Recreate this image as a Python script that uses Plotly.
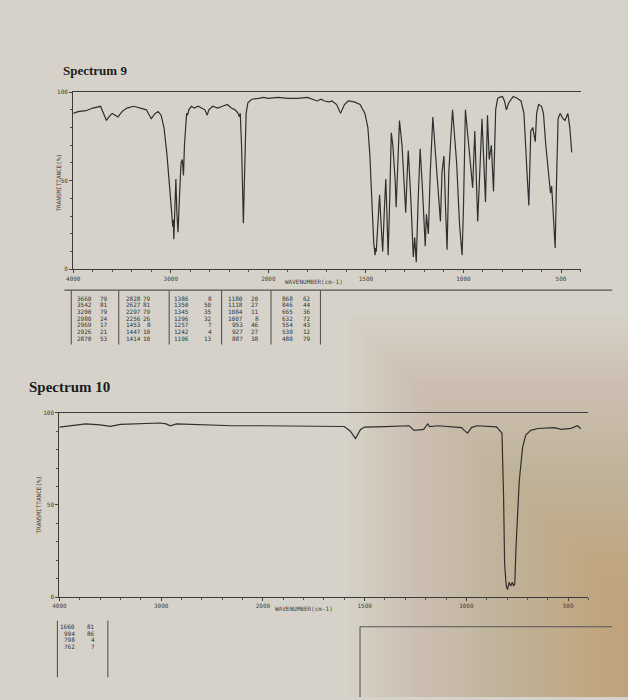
import plotly.graph_objects as go

W, H = 628, 700

# ---------------- data ----------------
# Spectrum 9 trace (wavenumber cm-1, %T)
s9_wn = [4000, 3950, 3870, 3800, 3720, 3690, 3660, 3620, 3600, 3570, 3542, 3500, 3450, 3380, 3300,
         3250, 3200, 3160, 3130, 3100, 3070, 3040, 3010, 2990, 2980, 2975, 2969, 2958, 2948, 2938,
         2926, 2912, 2895, 2882, 2870, 2860, 2848, 2838, 2828, 2815, 2790, 2760, 2720, 2680, 2650,
         2627, 2610, 2570, 2520, 2470, 2420, 2380, 2340, 2310, 2297, 2288, 2275, 2262, 2256, 2250,
         2240, 2228, 2210, 2170, 2100, 2050, 2000, 1950, 1900, 1850, 1800, 1770, 1750, 1730, 1712,
         1690, 1674, 1650, 1630, 1610, 1590, 1560, 1530, 1505, 1490, 1480, 1470, 1460, 1453, 1450,
         1447, 1438, 1430, 1422, 1414, 1405, 1398, 1392, 1386, 1378, 1370, 1362, 1350, 1345, 1338,
         1328, 1315, 1296, 1290, 1283, 1270, 1257, 1250, 1242, 1232, 1222, 1210, 1196, 1190, 1180,
         1170, 1157, 1140, 1118, 1110, 1100, 1092, 1084, 1075, 1056, 1035, 1020, 1007, 1000, 990,
         972, 953, 942, 927, 905, 887, 877, 868, 857, 846, 835, 825, 815, 800, 790, 780, 768, 745,
         725, 705, 690, 680, 672, 665, 660, 655, 645, 632, 625, 615, 600, 590, 578, 565, 554, 548,
         540, 530, 523, 515, 505, 490, 480, 472, 465, 455, 445]
s9_t = [88, 89, 89.5, 91, 92, 88, 84, 87, 88, 87, 86, 89, 91, 92, 91,
        90, 85, 88, 89, 87, 80, 65, 45, 30, 24, 28, 17, 35, 51, 32,
        21, 40, 60, 62, 53, 70, 84, 88, 87, 90, 92, 91, 92, 91, 90,
        87, 90, 92, 91, 92, 93, 91, 90, 88, 86, 88, 70, 40, 26, 40,
        72, 88, 94, 96, 96.5, 97, 96.5, 97, 96.5, 96.5, 97, 96, 95, 96, 95,
        94.5, 95, 93, 88, 93, 95, 94.5, 93, 88, 80, 65, 40, 15, 8, 12,
        10, 30, 42, 25, 10, 35, 51, 30, 8, 40, 77, 70, 50, 35, 60,
        84, 70, 32, 50, 67, 40, 7, 18, 4, 40, 68, 45, 13, 31, 20,
        55, 86, 60, 27, 55, 64, 35, 11, 55, 90, 60, 25, 8, 35, 90,
        70, 46, 78, 27, 85, 38, 87, 62, 70, 44, 90, 96.5, 97, 97.5, 95, 90, 94, 97.5,
        96.5, 95, 88, 70, 50, 36, 55, 78, 80, 72, 88, 93, 92, 88, 70, 55, 43, 47,
        30, 12, 50, 85, 88, 85, 84, 86, 88, 80, 66]

# Spectrum 10 trace (wavenumber cm-1, %T)
s10_wn = [4000, 3900, 3740, 3600, 3500, 3400, 3200, 3010, 2950, 2910, 2850, 2620, 2300, 2020,
          1800, 1681, 1600, 1570, 1545, 1520, 1500, 1400, 1281, 1257, 1230, 1210, 1190, 1180,
          1138, 1024, 1010, 994, 975, 948, 852, 840, 825, 817, 812, 804, 798, 790, 782, 774,
          768, 762, 756, 740, 724, 708, 684, 648, 569, 533, 486, 453, 438]
s10_t = [92.3, 93, 94, 93.5, 92.7, 93.8, 94, 94.5, 94, 93, 94, 93.5, 93, 93,
         93, 93, 92.6, 90, 86, 91, 92.3, 92.5, 93, 90.5, 91, 91, 94, 92.5,
         93, 92, 90.5, 89, 92, 93, 92.4, 91, 89, 54, 18, 6, 4, 8, 6, 8,
         6, 7, 27, 63, 81, 88, 90.5, 91.5, 92, 91, 91.6, 93, 91.4]

# axis tick labels
tick_wn = [4000, 3000, 2000, 1500, 1000, 500]
tick_text = ["4000", "3000", "2000", "1500", "1000", "500"]
y_tickvals = [0, 50, 100]
y_ticktext = ["0", "50", "100"]

# peak tables
s9_peak_wn = [3660, 3542, 3200, 2980, 2969, 2926, 2870,
              2828, 2627, 2297, 2256, 1453, 1447, 1414,
              1386, 1350, 1345, 1296, 1257, 1242, 1196,
              1180, 1118, 1084, 1007, 953, 927, 887,
              868, 846, 665, 632, 554, 530, 480]
s9_peak_t = [79, 81, 79, 24, 17, 21, 53,
             79, 81, 79, 26, 8, 10, 10,
             8, 50, 35, 32, 7, 4, 13,
             20, 27, 11, 8, 46, 27, 38,
             62, 44, 36, 72, 43, 12, 79]
s10_peak_wn = [1660, 994, 798, 762]
s10_peak_t = [81, 86, 4, 7]


def to_u(w):
    # two-scale IR axis: 4000-2000 compressed, 2000-400 expanded
    return (4000 - w) / 1000 if w >= 2000 else 2 + (2000 - w) / 500


def X(px):
    return px / W


def Y(py):
    return 1 - py / H


ink = "#2f2f2f"
mono = "DejaVu Sans Mono"

fig = go.Figure()
fig.add_trace(go.Scatter(x=[to_u(w) for w in s9_wn], y=s9_t, mode="lines",
                         line=dict(color=ink, width=1.2), xaxis="x", yaxis="y",
                         hoverinfo="skip"))
fig.add_trace(go.Scatter(x=[to_u(w) for w in s10_wn], y=s10_t, mode="lines",
                         line=dict(color=ink, width=1.2), xaxis="x2", yaxis="y2",
                         hoverinfo="skip"))

minor_u = [round(i * 0.2, 2) for i in range(27)]
minor_y = list(range(0, 101, 10))


def xax(domain, anchor):
    return dict(domain=domain, range=[0, 5.2], anchor=anchor,
                tickvals=[to_u(w) for w in tick_wn], ticktext=tick_text,
                ticks="outside", ticklen=3, tickcolor="#444", tickwidth=1,
                tickfont=dict(family=mono, size=6, color="#444"),
                showline=True, linecolor="#3a3a3a", linewidth=1.2, mirror=True,
                showgrid=False, zeroline=False,
                minor=dict(tickvals=minor_u, ticks="outside", ticklen=2,
                           tickcolor="#555", showgrid=False))


def yax(domain, anchor):
    return dict(domain=domain, range=[0, 100], anchor=anchor,
                tickvals=y_tickvals, ticktext=y_ticktext,
                ticks="outside", ticklen=3, tickcolor="#444",
                tickfont=dict(family=mono, size=6, color="#444"),
                showline=True, linecolor="#3a3a3a", linewidth=1.2,
                showgrid=False, zeroline=False,
                minor=dict(tickvals=minor_y, ticks="outside", ticklen=2,
                           tickcolor="#555", showgrid=False))


shapes = []
# soft page shading: lighter top, warmer lower-right corner
for i in range(30):
    shapes.append(dict(type="rect", xref="paper", yref="paper",
                       x0=0, x1=1, y0=1 - (i + 1) * 0.015, y1=1,
                       line=dict(width=0), fillcolor="rgba(255,255,255,0.008)",
                       layer="below"))
for i in range(40):
    shapes.append(dict(type="rect", xref="paper", yref="paper",
                       x0=0.55 + i * 0.0115, x1=1, y0=0, y1=0.55 - i * 0.0105,
                       line=dict(width=0), fillcolor="rgba(170,115,55,0.016)",
                       layer="below"))


def hline(x0, x1, y, w=1.1, c="#555"):
    shapes.append(dict(type="line", xref="paper", yref="paper",
                       x0=X(x0), x1=X(x1), y0=Y(y), y1=Y(y),
                       line=dict(color=c, width=w)))


def vline(x, y0, y1, w=1.1, c="#555"):
    shapes.append(dict(type="line", xref="paper", yref="paper",
                       x0=X(x), x1=X(x), y0=Y(y0), y1=Y(y1),
                       line=dict(color=c, width=w)))


# spectrum 9 table frame
hline(58, 612, 289)
for xv in [65, 113, 164, 217, 267, 317]:
    vline(xv, 289, 344)
# spectrum 10 table frame
vline(51, 623, 680)
vline(102, 623, 680)
# next box at lower right
hline(357, 612, 629)
vline(357, 629, 700)

ann = []


def text(px, py, s, size=6, anchor="center", font=mono, color="#333", angle=0, bold=False):
    if bold:
        s = "<b>" + s + "</b>"
    ann.append(dict(x=X(px), y=Y(py), xref="paper", yref="paper", text=s,
                    showarrow=False, xanchor=anchor, yanchor="middle",
                    textangle=angle, font=dict(family=font, size=size, color=color)))


text(55, 67, "Spectrum 9", size=13, anchor="left", font="Liberation Serif", color="#1c1c1c", bold=True)
text(20, 387, "Spectrum 10", size=15, anchor="left", font="Liberation Serif", color="#1c1c1c", bold=True)
text(52, 180, "TRANSMITTANCE(%)", size=6, angle=-90, color="#444")
text(32, 506, "TRANSMITTANCE(%)", size=6, angle=-90, color="#444")
text(310, 280, "WAVENUMBER(cm-1)", size=6, color="#444")
text(300, 611, "WAVENUMBER(cm-1)", size=6, color="#444")

col_wn_right = [88, 138, 186, 241, 291]
col_val_right = [104, 148, 209, 257, 309]
row_y = [297, 304, 311, 318, 324, 331, 338]
for i, (w, t) in enumerate(zip(s9_peak_wn, s9_peak_t)):
    c, r = divmod(i, 7)
    text(col_wn_right[c], row_y[r], str(w), size=6, anchor="right")
    text(col_val_right[c], row_y[r], str(t), size=6, anchor="right")

row_y10 = [629, 636, 642, 649]
for r, (w, t) in enumerate(zip(s10_peak_wn, s10_peak_t)):
    text(71, row_y10[r], str(w), size=6, anchor="right")
    text(91, row_y10[r], str(t), size=6, anchor="right")

fig.update_layout(
    width=W, height=H, margin=dict(l=0, r=0, t=0, b=0),
    paper_bgcolor="#d6d2c9", plot_bgcolor="rgba(0,0,0,0)",
    showlegend=False, hovermode=False,
    xaxis=xax([X(67), X(580)], "y"),
    yaxis=yax([Y(268), Y(89)], "x"),
    xaxis2=xax([X(53), X(588)], "y2"),
    yaxis2=yax([Y(599), Y(413)], "x2"),
    shapes=shapes, annotations=ann,
)

fig.write_html("out.html")
